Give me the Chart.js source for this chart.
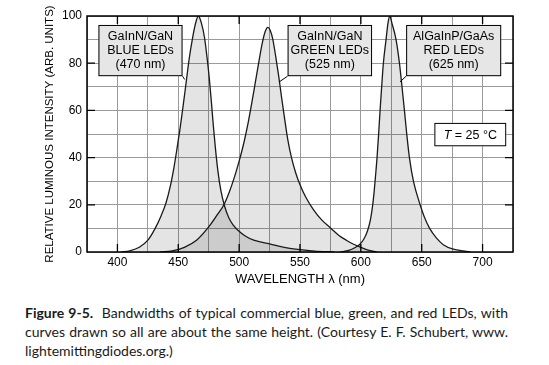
<!DOCTYPE html>
<html>
<head>
<meta charset="utf-8">
<script src="https://cdn.jsdelivr.net/npm/chart.js@4.4.0/dist/chart.umd.min.js"></script>
<style>
  html, body { margin: 0; padding: 0; background: #fff; }
  #wrap { position: relative; width: 549px; height: 365px; overflow: hidden; }
  #chart { position: absolute; left: 0; top: 0; }
  .cap { position: absolute; left: 25px; width: 483px; font-family: Lato, "Noto Sans", sans-serif;
         font-size: 14px; color: #1a1a1a; white-space: nowrap; line-height: 19px; }
  .just { text-align: justify; text-align-last: justify; }
</style>
</head>
<body>
<div id="wrap">
  <canvas id="chart" width="549" height="290"></canvas>
  <div class="cap just" style="top:303px"><b>Figure 9-5.</b>&nbsp; Bandwidths of typical commercial blue, green, and red LEDs, with</div>
  <div class="cap just" style="top:322px">curves drawn so all are about the same height. (Courtesy E. F. Schubert, www.</div>
  <div class="cap" style="top:341px">lightemittingdiodes.org.)</div>
</div>
<script>
// wavelength (nm) / relative intensity
var blueX = [403, 410, 418, 425, 431, 436, 440, 443.5, 446.5, 449, 451.5, 454, 456.5, 459, 461.5, 464, 466.5,
             469, 471.5, 473.5, 475.5, 477.2, 478.8, 480.5, 482.5, 485, 488, 491.5, 495, 499, 505, 512, 525, 537, 550, 562, 578];
var blueY = [0, 0.5, 2, 5, 10, 15.5, 21, 28, 36, 44, 52.5, 62, 72, 82, 90, 96.5, 100,
             97, 91, 83, 73.5, 63.5, 53.5, 44, 34.5, 26, 19.5, 14.5, 11.5, 9.2, 6.8, 5, 3.4, 2, 1, 0.4, 0];

var greenX = [435, 445, 455, 465, 474, 481, 487.5, 492, 496, 500, 504, 507.5, 510.5, 513.5, 516.5, 519, 521.5, 523.5,
              525.5, 527.5, 530, 532.5, 535, 537.5, 540, 543, 546.5, 550, 555, 561, 568, 575.5, 582, 588, 594, 600, 606, 613];
var greenY = [0, 0.5, 2, 5, 10, 15, 20, 25.5, 31.5, 38.5, 46.5, 55, 63.5, 72.5, 81.5, 88.5, 93.5, 95.2,
              94, 90.5, 83, 74.5, 65, 56, 47.5, 40, 33.5, 28.5, 23, 18, 13.5, 10, 7, 5, 3.3, 2, 0.8, 0];

var redX = [583, 590, 595, 599, 602.5, 605.5, 607.8, 609.5, 610.9, 612.1, 613.3, 614.6, 615.8, 617.1, 618.5, 620.7, 622.3, 623.8,
            625.5, 628.9, 631.7, 633.8, 635.8, 637.7, 639.9, 643.2, 648.7, 652, 656.5, 662, 668, 676, 690];
var redY = [0, 0.7, 1.8, 3.2, 5.5, 9, 13.5, 19, 25.5, 32.5, 40, 50, 60, 70, 80, 90, 97, 100,
            97, 90, 80, 70, 60, 50, 40, 30, 20, 15, 10, 6, 3, 1.2, 0];

var xMin = 375, xMax = 725, xStep = 25, xLabelStep = 50;
var yMin = 0, yMax = 100, yStep = 10, yLabelStep = 20;

var blueLabel = ['GaInN/GaN', 'BLUE LEDs', '(470 nm)'];
var greenLabel = ['GaInN/GaN', 'GREEN LEDs', '(525 nm)'];
var redLabel = ['AlGaInP/GaAs', 'RED LEDs', '(625 nm)'];

function pts(xs, ys) {
  return xs.map(function (v, i) { return { x: v, y: ys[i] }; });
}

function series(xs, ys) {
  return {
    data: pts(xs, ys),
    borderColor: '#1a1a1a',
    borderWidth: 1.3,
    backgroundColor: 'rgba(0,0,0,0.105)',
    fill: 'origin',
    pointRadius: 0,
    cubicInterpolationMode: 'monotone'
  };
}

// callout boxes, in data units
var callouts = [
  { lines: blueLabel, x0: 384.4, x1: 453.5, y0: 74.5, y1: 96.2, from: [453.5, 74.5], to: [455.3, 73.1] },
  { lines: greenLabel, x0: 539.8, x1: 609.2, y0: 74.5, y1: 96.2, from: [539.8, 74.5], to: [533, 72.1] },
  { lines: redLabel, x0: 637.2, x1: 715.3, y0: 74.5, y1: 96.2, from: [637.2, 74.5], to: [632.2, 72.1] }
];

var frame = {
  id: 'frame',
  afterDatasetsDraw: function (chart) {
    var ctx = chart.ctx, a = chart.chartArea, x = chart.scales.x, y = chart.scales.y;
    ctx.save();
    ctx.strokeStyle = '#000';
    ctx.lineWidth = 1.5;
    ctx.strokeRect(a.left, a.top, a.right - a.left, a.bottom - a.top);

    // inward major ticks on all four sides
    ctx.lineWidth = 1.3;
    ctx.beginPath();
    for (var v = xMin; v <= xMax; v += xStep) {
      if (v % xLabelStep !== 0) continue;
      var px = x.getPixelForValue(v);
      ctx.moveTo(px, a.bottom); ctx.lineTo(px, a.bottom - 8);
      ctx.moveTo(px, a.top); ctx.lineTo(px, a.top + 8);
    }
    for (var w = yMin + yLabelStep; w < yMax; w += yLabelStep) {
      var py = y.getPixelForValue(w);
      ctx.moveTo(a.left, py); ctx.lineTo(a.left + 8, py);
      ctx.moveTo(a.right, py); ctx.lineTo(a.right - 8, py);
    }
    ctx.stroke();

    ctx.font = '12.5px "Liberation Sans", Arial, sans-serif';
    ctx.textAlign = 'center';
    ctx.textBaseline = 'middle';
    callouts.forEach(function (c) {
      var l = x.getPixelForValue(c.x0), r = x.getPixelForValue(c.x1);
      var t = y.getPixelForValue(c.y1), b = y.getPixelForValue(c.y0);
      ctx.lineWidth = 1;
      ctx.beginPath();
      ctx.moveTo(x.getPixelForValue(c.from[0]), y.getPixelForValue(c.from[1]));
      ctx.lineTo(x.getPixelForValue(c.to[0]), y.getPixelForValue(c.to[1]));
      ctx.stroke();
      ctx.fillStyle = '#e6e6e6';
      ctx.fillRect(l, t, r - l, b - t);
      ctx.strokeRect(l + 0.5, t + 0.5, r - l - 1, b - t - 1);
      ctx.fillStyle = '#000';
      var cx = (l + r) / 2, cy = (t + b) / 2;
      c.lines.forEach(function (s, i) {
        ctx.fillText(s, cx, cy + (i - 1) * 14);
      });
    });

    // temperature box
    var tl = x.getPixelForValue(660.4), tr = x.getPixelForValue(719.4);
    var tt = y.getPixelForValue(54.7), tb = y.getPixelForValue(44.8);
    ctx.fillStyle = '#fff';
    ctx.fillRect(tl, tt, tr - tl, tb - tt);
    ctx.strokeRect(tl + 0.5, tt + 0.5, tr - tl - 1, tb - tt - 1);
    ctx.fillStyle = '#000';
    ctx.textAlign = 'left';
    var italic = 'italic 12.5px "Liberation Sans", Arial, sans-serif';
    var normal = '12.5px "Liberation Sans", Arial, sans-serif';
    ctx.font = italic;
    var w1 = ctx.measureText('T').width;
    ctx.font = normal;
    var rest = ' = 25 \u00B0C';
    var w2 = ctx.measureText(rest).width;
    var sx = (tl + tr) / 2 - (w1 + w2) / 2, sy = (tt + tb) / 2 + 0.5;
    ctx.font = italic;
    ctx.fillText('T', sx, sy);
    ctx.font = normal;
    ctx.fillText(rest, sx + w1, sy);
    ctx.restore();
  }
};

new Chart(document.getElementById('chart'), {
  type: 'line',
  data: {
    datasets: [series(blueX, blueY), series(greenX, greenY), series(redX, redY)]
  },
  options: {
    responsive: false,
    animation: false,
    devicePixelRatio: 1,
    layout: { padding: { top: 16, right: 36, left: 0, bottom: 0 } },
    plugins: { legend: { display: false }, tooltip: { enabled: false } },
    scales: {
      x: {
        type: 'linear',
        min: xMin, max: xMax,
        afterFit: function (s) { s.height = 38; },
        grid: { color: '#9a9a9a', lineWidth: 1, drawTicks: false },
        border: { display: false },
        ticks: {
          stepSize: xStep, autoSkip: false, maxRotation: 0, padding: 3,
          color: '#000', font: { family: '"Liberation Sans", Arial, sans-serif', size: 12 },
          callback: function (v) { return v % xLabelStep === 0 ? v : ''; }
        },
        title: {
          display: true, text: 'WAVELENGTH \u03BB (nm)', color: '#000',
          font: { family: '"Liberation Sans", Arial, sans-serif', size: 13 },
          padding: { top: 0, bottom: 2.7 }
        }
      },
      y: {
        min: yMin, max: yMax,
        afterFit: function (s) { s.width = 87; },
        grid: { color: '#9a9a9a', lineWidth: 1, drawTicks: false },
        border: { display: false },
        ticks: {
          stepSize: yStep, autoSkip: false, padding: 5,
          color: '#000', font: { family: '"Liberation Sans", Arial, sans-serif', size: 12 },
          callback: function (v) { return v % yLabelStep === 0 ? v : ''; }
        },
        title: {
          display: true, text: 'RELATIVE LUMINOUS INTENSITY (ARB. UNITS)', color: '#000',
          font: { family: '"Liberation Sans", Arial, sans-serif', size: 11.5 },
          padding: { top: 43, bottom: 0 }
        }
      }
    }
  },
  plugins: [frame]
});
</script>
</body>
</html>
